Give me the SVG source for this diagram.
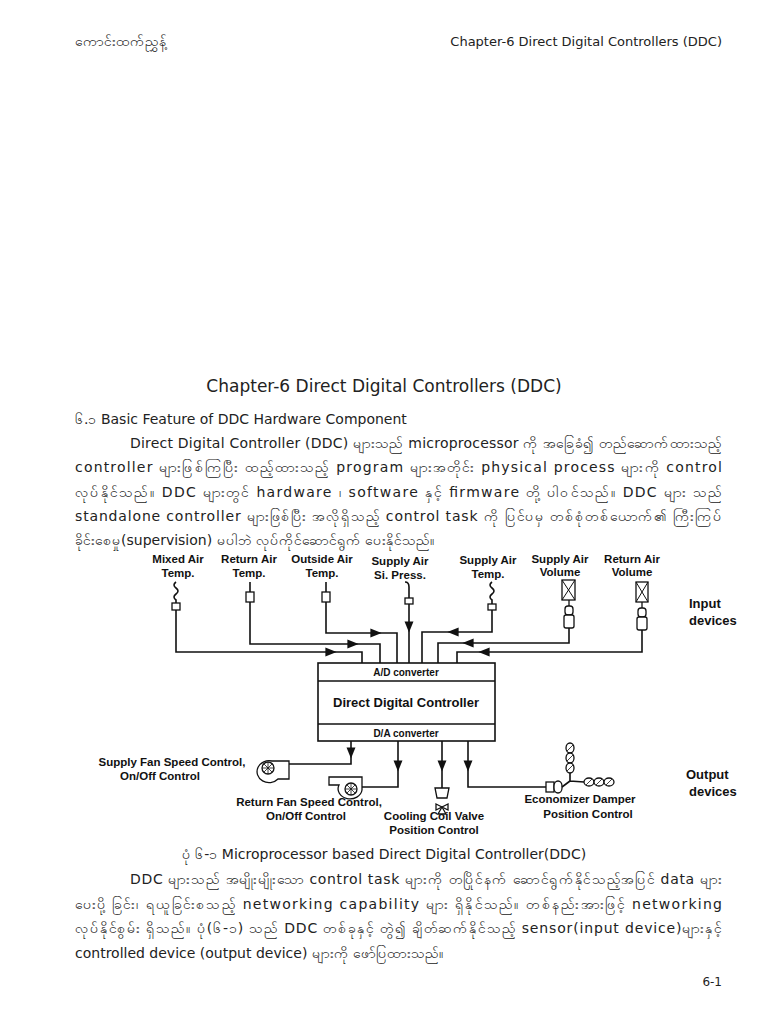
<svg xmlns="http://www.w3.org/2000/svg" width="768" height="1024" viewBox="0 0 768 1024">
<style>
.b{font-family:"DejaVu Sans","Noto Sans",sans-serif;font-size:14px;fill:#222}
.l{font-family:"Liberation Sans",Arial,sans-serif;font-size:11.5px;font-weight:bold;fill:#111;text-anchor:middle}
.big{font-family:"Liberation Sans",Arial,sans-serif;font-size:14px;fill:#111}
.w{fill:none;stroke:#111;stroke-width:1.6}
.s{fill:#fff;stroke:#111;stroke-width:1.3}
</style>
<defs><marker id="a" viewBox="0 0 10 10" refX="5" refY="5" markerWidth="7" markerHeight="7" orient="auto"><path d="M0,1L10,5L0,9z" fill="#111"/></marker></defs>
<rect width="768" height="1024" fill="#fff"/>
<text class="b" x="75" y="46">ကောင်းထက်ညွှန့်</text>
<text class="b" x="722" y="46" text-anchor="end" style="font-size:13px">Chapter-6 Direct Digital Controllers (DDC)</text>
<text class="b" x="384" y="392" text-anchor="middle" style="font-size:17px">Chapter-6 Direct Digital Controllers (DDC)</text>
<text class="b" x="75" y="424" style="font-size:14px">၆.၁ Basic Feature of DDC Hardware Component</text>
<text class="b" x="130" y="448" textLength="592" lengthAdjust="spacing">Direct Digital Controller (DDC) များသည် microprocessor ကို အခြေခံ၍ တည်ဆောက်ထားသည့်</text>
<text class="b" x="75" y="472" textLength="647" lengthAdjust="spacing">controller များဖြစ်ကြပြီး ထည့်ထားသည့် program များအတိုင်း physical process များကို control</text>
<text class="b" x="75" y="497" textLength="647" lengthAdjust="spacing">လုပ်နိုင်သည်။ DDC များတွင် hardware ၊ software နှင့် firmware တို့ ပါဝင်သည်။ DDC များ သည်</text>
<text class="b" x="75" y="521" textLength="647" lengthAdjust="spacing">standalone controller များဖြစ်ပြီး အလိုရှိသည့် control task ကို ပြင်ပမှ တစ်စုံတစ်ယောက်၏ ကြီးကြပ်</text>
<text class="b" x="75" y="545">ခိုင်းစေမှု(supervision) မပါဘဲ လုပ်ကိုင်ဆောင်ရွက် ပေးနိုင်သည်။</text>

<g id="labels-in">
<text class="l" x="178" y="563">Mixed Air</text><text class="l" x="178" y="577">Temp.</text>
<text class="l" x="249" y="563">Return Air</text><text class="l" x="249" y="577">Temp.</text>
<text class="l" x="322" y="563">Outside Air</text><text class="l" x="322" y="577">Temp.</text>
<text class="l" x="400" y="565">Supply Air</text><text class="l" x="400" y="579">Si. Press.</text>
<text class="l" x="488" y="564">Supply Air</text><text class="l" x="488" y="578">Temp.</text>
<text class="l" x="560" y="563">Supply Air</text><text class="l" x="560" y="576">Volume</text>
<text class="l" x="632" y="563">Return Air</text><text class="l" x="632" y="576">Volume</text>
<text class="big" x="689" y="608" font-weight="bold" style="font-size:13px">Input</text>
<text class="big" x="689" y="625" font-weight="bold" style="font-size:13px">devices</text>
</g>
<g id="sensors">
<path class="w" d="M176,582 q-4,3 0,6 q4,3 0,6 q-4,3 0,6 v3" stroke-width="1"/><rect class="s" x="172" y="603" width="8" height="7"/>
<path class="w" d="M250,582v10" stroke-width="1"/><rect class="s" x="246" y="592" width="8" height="10"/>
<path class="w" d="M326,582v10" stroke-width="1"/><rect class="s" x="322" y="592" width="8" height="10"/>
<path class="w" d="M405,582 q4,0 4,5 v11" stroke-width="1"/><rect class="s" x="405" y="598" width="8" height="6"/>
<path class="w" d="M492,582 q-4,3 0,6 q4,3 0,6 q-4,3 0,6 v4" stroke-width="1"/><rect class="s" x="488" y="604" width="8" height="6"/>
<rect class="s" x="562" y="580" width="13" height="20"/><path d="M562,580L575,600M575,580L562,600" stroke="#111"/>
<path class="s" d="M569,600v6"/><rect class="s" x="565" y="606" width="8" height="9" rx="3"/><rect class="s" x="564" y="615" width="10" height="13" rx="2"/>
<rect class="s" x="636" y="582" width="12" height="20"/><path d="M636,582L648,602M648,582L636,602" stroke="#111"/>
<path class="s" d="M642,602v6"/><rect class="s" x="638" y="608" width="8" height="9" rx="3"/><rect class="s" x="637" y="617" width="10" height="13" rx="2"/>
</g>
<g id="ddc">
<rect x="318" y="663" width="177" height="78" fill="#fff" stroke="#111" stroke-width="1.6"/>
<line x1="318" y1="681" x2="495" y2="681" stroke="#111" stroke-width="1.6"/>
<line x1="318" y1="724" x2="495" y2="724" stroke="#111" stroke-width="1.6"/>
<text class="l" x="406" y="676" style="font-size:10px">A/D converter</text>
<text class="l" x="406" y="707" style="font-size:13px">Direct Digital Controller</text>
<text class="l" x="406" y="737" style="font-size:10px">D/A converter</text>
</g>
<g id="connectors">
<path class="w" d="M176,610V652H331" marker-end="url(#a)"/><path class="w" d="M331,652H362V663"/>
<path class="w" d="M250,602V644H353" marker-end="url(#a)" stroke-width="2"/><path class="w" d="M353,644H380V663" stroke-width="2"/>
<path class="w" d="M326,602V633H376" marker-end="url(#a)"/><path class="w" d="M376,633H397V663"/>
<path class="w" d="M409,604V627" marker-end="url(#a)"/><path class="w" d="M409,627V663"/>
<path class="w" d="M492,610V632H453" marker-end="url(#a)"/><path class="w" d="M453,632H422V663"/>
<path class="w" d="M569,628V643H468" marker-end="url(#a)"/><path class="w" d="M468,643H438V663"/>
<path class="w" d="M642,630V652H484" marker-end="url(#a)"/><path class="w" d="M484,652H457V663"/>
<path class="w" d="M351,741V753" marker-end="url(#a)"/><path class="w" d="M351,753V764H289"/>
<path class="w" d="M398,741V766" marker-end="url(#a)"/><path class="w" d="M398,766V787H362"/>
<path class="w" d="M442,741V766" marker-end="url(#a)" stroke-width="2"/><path class="w" d="M442,766V788" stroke-width="2"/>
<path class="w" d="M468,741V766" marker-end="url(#a)"/><path class="w" d="M468,766V787H546"/>
</g>
<g id="outputs">
<path class="s" d="M289,761H272a12,11 0 1 0 6,18h11z"/><circle class="s" cx="268" cy="768" r="6"/><path d="M262,768h12M268,762v12M264,764l8,8M272,764l-8,8" stroke="#111" stroke-width=".8"/>
<path class="s" d="M329,777v8h10a12,10 0 1 0 23,5v-13z"/><circle class="s" cx="351" cy="789" r="6"/><path d="M345,789h12M351,783v12M347,785l8,8M355,785l-8,8" stroke="#111" stroke-width=".8"/>
<path class="s" d="M435,788h14l-2,10h-10z"/><path class="s" d="M436,804l12,6v-6l-12,6z"/><path class="s" d="M442,807l-4,7h8z"/>
<rect class="s" x="546" y="782" width="8" height="10"/><rect class="s" x="554" y="781" width="8" height="12" rx="5"/>
<path class="w" d="M562,787l8,-6v-9M570,781l14,1" stroke-width="1"/>
<g class="s"><ellipse cx="570" cy="748" rx="4" ry="5"/><ellipse cx="570" cy="758" rx="4" ry="5"/><ellipse cx="570" cy="768" rx="4" ry="5"/><ellipse cx="589" cy="782" rx="5" ry="4"/><ellipse cx="599" cy="782" rx="5" ry="4"/><ellipse cx="609" cy="782" rx="5" ry="4"/></g>
<path d="M567,751l6,-6M567,761l6,-6M567,771l6,-6M586,785l6,-6M596,785l6,-6M606,785l6,-6" stroke="#111" stroke-width=".8"/>
</g>
<g id="labels-out">
<text class="l" x="172" y="766">Supply Fan Speed Control,</text><text class="l" x="160" y="780">On/Off Control</text>
<text class="l" x="309" y="806">Return Fan Speed Control,</text><text class="l" x="306" y="820">On/Off Control</text>
<text class="l" x="434" y="820">Cooling Coil Valve</text><text class="l" x="434" y="834">Position Control</text>
<text class="l" x="580" y="803">Economizer Damper</text><text class="l" x="588" y="818">Position Control</text>
<text class="big" x="686" y="779" font-weight="bold" style="font-size:13px">Output</text>
<text class="big" x="689" y="796" font-weight="bold" style="font-size:13px">devices</text>
</g>
<text class="b" x="384" y="859" text-anchor="middle">ပုံ ၆-၁  Microprocessor based Direct Digital Controller(DDC)</text>
<text class="b" x="130" y="884" textLength="592" lengthAdjust="spacing">DDC များသည် အမျိုးမျိုးသော control task များကို တပြိုင်နက် ဆောင်ရွက်နိုင်သည့်အပြင် data များ</text>
<text class="b" x="75" y="909" textLength="647" lengthAdjust="spacing">ပေးပို့ခြင်း၊ ရယူခြင်းစသည့် networking capability များ ရှိနိုင်သည်။ တစ်နည်းအားဖြင့် networking</text>
<text class="b" x="75" y="933" textLength="647" lengthAdjust="spacing">လုပ်နိုင်စွမ်း ရှိသည်။ ပုံ(၆-၁) သည် DDC တစ်ခုနှင့် တွဲ၍ ချိတ်ဆက်နိုင်သည့် sensor(input device)များနှင့်</text>
<text class="b" x="75" y="958">controlled device (output device) များကို ဖော်ပြထားသည်။</text>
<text class="b" x="722" y="986" text-anchor="end" style="font-size:12px">6-1</text>
</svg>
